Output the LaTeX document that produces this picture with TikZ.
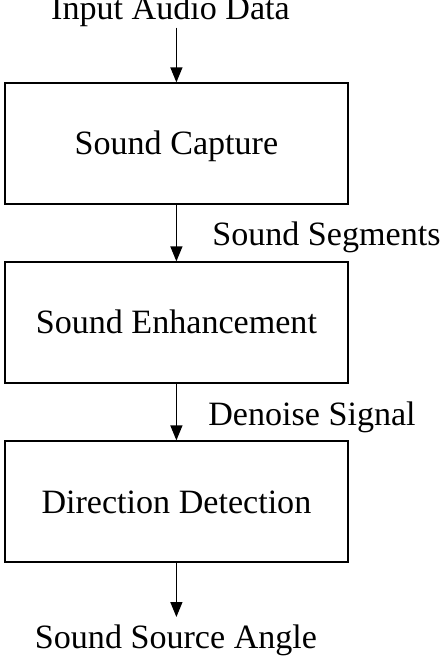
\documentclass[tikz,border=0pt]{standalone}
\usepackage{fontspec}
\setmainfont{Liberation Serif}
\usetikzlibrary{arrows.meta}

\tikzset{
    block/.style={draw, line width=0.74pt, minimum width=6.86cm, minimum height=2.42cm,
        text height=0.46cm, text depth=0cm, inner sep=0pt},
    flowlabel/.style={inner sep=0pt},
    arr/.style={line width=0.74pt, -{Triangle[width=0.24cm,length=0.3cm]}}
}

\begin{document}
\begin{tikzpicture}[x=0.02cm, y=-0.02cm, font=\fontsize{19.4}{23}\selectfont]
    \useasboundingbox (0,0) rectangle (442,658);
    % blocchi
    \node[block] (capture) at (176.4,143.5) {Sound Capture};
    \node[block] (enhance) at (176.4,322.5) {Sound Enhancement};
    \node[block] (detect) at (176.4,501.5) {Direction Detection};
    % etichette
    \node[flowlabel, anchor=base] (input) at (170.5,20) {Input Audio Data};
    \node[flowlabel, anchor=base west] (segments) at (212,245) {Sound Segments};
    \node[flowlabel, anchor=base west] (denoise) at (208,425) {Denoise Signal};
    \node[flowlabel, anchor=base] (angle) at (176,648) {Sound Source Angle};
    % frecce
    \draw[arr] (capture.north |- input.south) -- (capture.north);
    \draw[arr] (capture.south) -- (enhance.north);
    \draw[arr] (enhance.south) -- (detect.north);
    \draw[arr, shorten >=0.14cm] (detect.south) -- (detect.south |- angle.north);
\end{tikzpicture}
\end{document}
